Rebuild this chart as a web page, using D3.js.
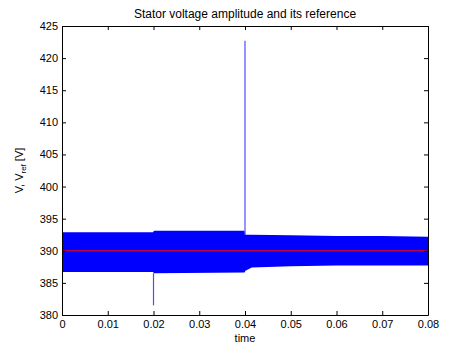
<!DOCTYPE html>
<html>
<head>
<meta charset="utf-8">
<script src="https://cdn.jsdelivr.net/npm/d3@7"></script>
<style>
  body { margin: 0; background: #fff; }
  svg { display: block; font-family: "Liberation Sans", Arial, sans-serif; }
</style>
</head>
<body>
<svg id="chart"></svg>
<script>
const width = 474, height = 354;

// envelope of the (dense) stator voltage oscillation
const envTime  = [0, 0.0199, 0.0201, 0.0399, 0.0401, 0.0415, 0.05, 0.06, 0.07, 0.08];
const envUpper = [392.9, 392.9, 393.1, 393.1, 392.5, 392.5, 392.4, 392.3, 392.3, 392.2];
const envLower = [386.7, 386.7, 386.5, 386.6, 386.9, 387.4, 387.6, 387.7, 387.7, 387.7];

// short transients at the switching instants
const spikeTime = [0.02, 0.04];
const spikeFrom = [386.5, 392.5];
const spikeTo   = [381.5, 422.7];

// reference voltage
const refTime  = [0, 0.08];
const refValue = [390, 390];

const xTicks = [0, 0.01, 0.02, 0.03, 0.04, 0.05, 0.06, 0.07, 0.08];
const yTicks = [380, 385, 390, 395, 400, 405, 410, 415, 420, 425];

const margin = {top: 26, right: 46, bottom: 39, left: 62};

const svg = d3.select("#chart")
    .attr("width", width)
    .attr("height", height);

const x = d3.scaleLinear().domain([0, 0.08]).range([margin.left, width - margin.right]);
const y = d3.scaleLinear().domain([380, 425]).range([height - margin.bottom, margin.top]);

// clip so nothing leaks out of the axes box
svg.append("clipPath").attr("id", "clip")
  .append("rect")
    .attr("x", margin.left).attr("y", margin.top)
    .attr("width", x.range()[1] - x.range()[0])
    .attr("height", y.range()[0] - y.range()[1]);

const plot = svg.append("g").attr("clip-path", "url(#clip)");

// blue band
const env = envTime.map((t, i) => ({t, hi: envUpper[i], lo: envLower[i]}));
plot.append("path")
    .datum(env)
    .attr("fill", "#0000ff")
    .attr("d", d3.area().x(d => x(d.t)).y0(d => y(d.lo)).y1(d => y(d.hi)));

// spikes
plot.selectAll("line.spike")
  .data(spikeTime.map((t, i) => ({t, a: spikeFrom[i], b: spikeTo[i]})))
  .join("line")
    .attr("class", "spike")
    .attr("x1", d => x(d.t)).attr("x2", d => x(d.t))
    .attr("y1", d => y(d.a)).attr("y2", d => y(d.b))
    .attr("stroke", "#4d4dff")
    .attr("stroke-width", 1.2);

// red reference line
plot.append("path")
    .datum(refTime.map((t, i) => ({t, v: refValue[i]})))
    .attr("fill", "none")
    .attr("stroke", "#ff0000")
    .attr("stroke-width", 1)
    .attr("d", d3.line().x(d => x(d.t)).y(d => y(d.v)));

// axes, matlab style: ticks inward on all sides
const fmtX = d => d === 0 ? "0" : d3.format(".2f")(d);

const xBottom = svg.append("g")
    .attr("transform", `translate(0,${y.range()[0]})`)
    .call(d3.axisBottom(x).tickValues(xTicks).tickFormat(fmtX).tickSizeInner(-4).tickSizeOuter(0).tickPadding(5));
const xTop = svg.append("g")
    .attr("transform", `translate(0,${y.range()[1]})`)
    .call(d3.axisTop(x).tickValues(xTicks).tickFormat("").tickSizeInner(-4).tickSizeOuter(0));
const yLeft = svg.append("g")
    .attr("transform", `translate(${x.range()[0]},0)`)
    .call(d3.axisLeft(y).tickValues(yTicks).tickSizeInner(-4).tickSizeOuter(0).tickPadding(4));
const yRight = svg.append("g")
    .attr("transform", `translate(${x.range()[1]},0)`)
    .call(d3.axisRight(y).tickValues(yTicks).tickFormat("").tickSizeInner(-4).tickSizeOuter(0));

[xBottom, xTop, yLeft, yRight].forEach(g => {
  g.select(".domain").attr("stroke", "#000").attr("stroke-width", 1);
  g.selectAll(".tick line").attr("stroke", "#000");
  g.selectAll("text").attr("font-size", 11).attr("fill", "#000")
    .attr("font-family", "Liberation Sans, Arial, sans-serif");
});

// title
svg.append("text")
    .attr("x", (x.range()[0] + x.range()[1]) / 2)
    .attr("y", 18)
    .attr("text-anchor", "middle")
    .attr("font-size", 12)
    .text("Stator voltage amplitude and its reference");

// x label
svg.append("text")
    .attr("x", (x.range()[0] + x.range()[1]) / 2)
    .attr("y", 342)
    .attr("text-anchor", "middle")
    .attr("font-size", 11)
    .text("time");

// y label with subscript
const yl = svg.append("text")
    .attr("transform", `translate(23,${(y.range()[0] + y.range()[1]) / 2}) rotate(-90)`)
    .attr("text-anchor", "middle")
    .attr("font-size", 11);
yl.append("tspan").text("V, V");
yl.append("tspan").attr("font-size", 8).attr("dy", 3).text("ref");
yl.append("tspan").attr("dy", -3).text(" [V]");
</script>
</body>
</html>
